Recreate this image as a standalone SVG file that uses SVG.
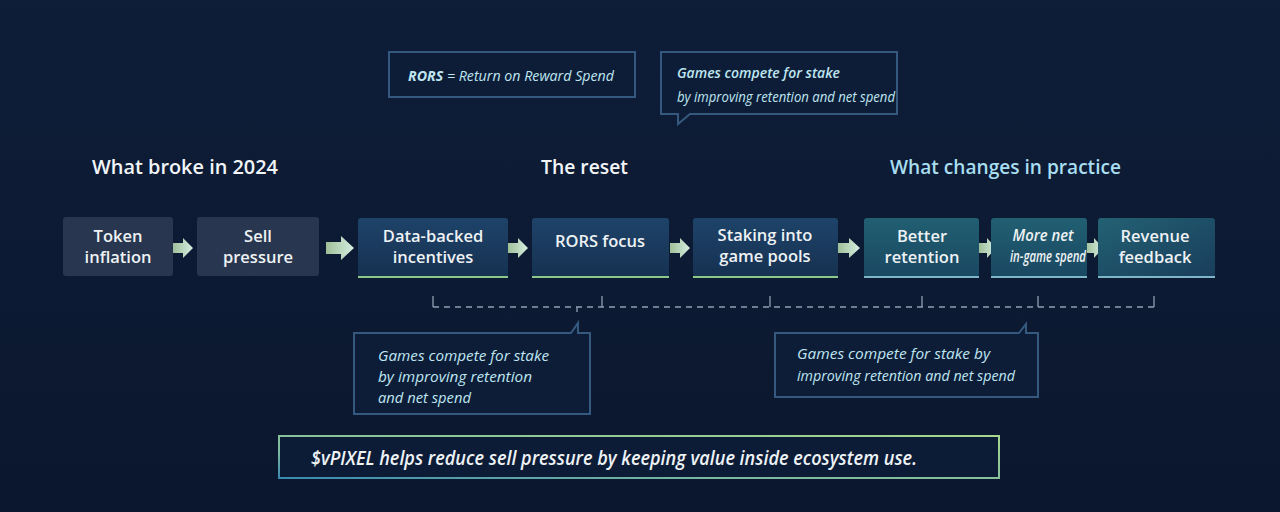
<svg xmlns="http://www.w3.org/2000/svg" width="1280" height="512" viewBox="0 0 1280 512">
<defs>
<linearGradient id="bg" x1="0" y1="0" x2="0" y2="1"><stop offset="0" stop-color="#0e1d38"/><stop offset="1" stop-color="#0b172e"/></linearGradient>
<linearGradient id="lineTop" x1="0" y1="0" x2="1" y2="0"><stop offset="0" stop-color="#2a4666"/><stop offset="0.5" stop-color="#5fa3ad"/><stop offset="1" stop-color="#2f5572"/></linearGradient>
<linearGradient id="lineBot" x1="0" y1="0" x2="1" y2="0"><stop offset="0" stop-color="#35577a"/><stop offset="0.45" stop-color="#a6c99a"/><stop offset="0.75" stop-color="#6aa0a8"/><stop offset="1" stop-color="#35577a"/></linearGradient>
<linearGradient id="gBlue" x1="0" y1="0" x2="0" y2="1"><stop offset="0" stop-color="#1e4369"/><stop offset="1" stop-color="#163151"/></linearGradient>
<linearGradient id="gTeal" x1="0" y1="0" x2="0" y2="1"><stop offset="0" stop-color="#215f72"/><stop offset="1" stop-color="#1a4862"/></linearGradient>
<linearGradient id="gRev" x1="0" y1="0" x2="1" y2="1"><stop offset="0" stop-color="#236173"/><stop offset="1" stop-color="#193d5c"/></linearGradient>
<linearGradient id="gArrow" x1="0" y1="0" x2="1" y2="0"><stop offset="0" stop-color="#9fbf98"/><stop offset="1" stop-color="#d6efe2"/></linearGradient>
<linearGradient id="gBorder" x1="0" y1="1" x2="1" y2="0"><stop offset="0" stop-color="#3a8ab0"/><stop offset="0.3" stop-color="#7ab8a0"/><stop offset="1" stop-color="#a6d68e"/></linearGradient>
<style>
.bg{fill:url(#bg)}
.head{font-family:"Open Sans","Noto Sans",sans-serif;font-weight:600;font-size:20px;fill:#f2f5f8}
.gray{fill:#28374f}
.blue{fill:url(#gBlue)}
.teal{fill:url(#gTeal)}
.lbl{font-family:"Open Sans","Noto Sans",sans-serif;font-weight:600;font-size:16.5px;fill:#eef2f4;text-anchor:middle}
.ulG{stroke:#8cc98a;stroke-width:2}
.ulB{stroke:#7eb6c8;stroke-width:2}
.note{fill:#0d1d38;stroke:#35597e;stroke-width:2}
.nt{font-family:"Open Sans","Noto Sans",sans-serif;font-style:italic;font-size:15px;fill:#bfe6f0}
.arrow{fill:url(#gArrow)}
.dash{fill:none;stroke:#8f9fb2;stroke-width:1.3;stroke-dasharray:6 5}
.tick{stroke:#8f9fb2;stroke-width:1.3}
</style>
</defs>
<rect class="bg" x="0" y="0" width="1280" height="512"/>

<g id="headers">
<line x1="62" y1="142" x2="1216" y2="142" stroke="url(#lineTop)" stroke-width="2"/>
<line x1="62" y1="186" x2="1216" y2="186" stroke="url(#lineBot)" stroke-width="2"/>
<text class="head" x="92" y="174" textLength="186" lengthAdjust="spacingAndGlyphs">What broke in 2024</text>
<text class="head" x="541" y="174" textLength="87" lengthAdjust="spacingAndGlyphs">The reset</text>
<text class="head" x="890" y="174" textLength="231" lengthAdjust="spacingAndGlyphs" style="fill:#a8def0">What changes in practice</text>
</g>

<g id="note-rors">
<rect class="note" x="389" y="52" width="246" height="45"/>
<text class="nt" x="408" y="81" font-size="16" textLength="206" lengthAdjust="spacingAndGlyphs"><tspan font-weight="700">RORS</tspan> = Return on Reward Spend</text>
</g>

<g id="note-top">
<path class="note" d="M661,52 H897 V114 H690 L678,124 V114 H661 Z"/>
<text class="nt" x="677" y="78" font-weight="600" textLength="163" lengthAdjust="spacingAndGlyphs">Games compete for stake</text>
<text class="nt" x="677" y="102" font-size="14" textLength="218" lengthAdjust="spacingAndGlyphs">by improving retention and net spend</text>
</g>

<g id="connectors">
<path class="arrow" d="M173,243 H183 V238 L193,248 L183,258 V253 H173 Z"/>
<path class="arrow" d="M326,242 H341 V236 L354,248 L341,260 V254 H326 Z"/>
<path class="arrow" d="M508,243 H518 V238 L528,248 L518,258 V253 H508 Z"/>
<path class="arrow" d="M670,243 H680 V238 L690,248 L680,258 V253 H670 Z"/>
<path class="arrow" d="M838,243 H849 V238 L860,248 L849,258 V253 H838 Z"/>
<path class="arrow" d="M979,243 H987 V238 L996,248 L987,258 V253 H979 Z"/>
<path class="arrow" d="M1085,243 H1094 V238 L1103,248 L1094,258 V253 H1085 Z"/>
</g>

<g id="node-token">
<rect class="gray" x="63" y="217" width="110" height="59" rx="3"/>
<text class="lbl" x="118" y="242">Token</text>
<text class="lbl" x="118" y="263">inflation</text>
</g>
<g id="node-sell">
<rect class="gray" x="197" y="217" width="122" height="59" rx="3"/>
<text class="lbl" x="258" y="242">Sell</text>
<text class="lbl" x="258" y="263">pressure</text>
</g>
<g id="node-data">
<rect class="blue" x="358" y="218" width="150" height="59" rx="3"/>
<line class="ulG" x1="358" y1="277" x2="508" y2="277"/>
<text class="lbl" x="433" y="242">Data-backed</text>
<text class="lbl" x="433" y="263">incentives</text>
</g>
<g id="node-rors">
<rect class="blue" x="532" y="218" width="137" height="59" rx="3"/>
<line class="ulG" x1="532" y1="277" x2="669" y2="277"/>
<text class="lbl" x="600" y="247">RORS focus</text>
</g>
<g id="node-staking">
<rect class="blue" x="693" y="218" width="145" height="59" rx="3"/>
<line class="ulG" x1="693" y1="277" x2="838" y2="277"/>
<text class="lbl" x="765" y="241">Staking into</text>
<text class="lbl" x="765" y="262">game pools</text>
</g>
<g id="node-retention">
<rect class="teal" x="864" y="218" width="115" height="59" rx="3"/>
<line class="ulB" x1="864" y1="277" x2="979" y2="277"/>
<text class="lbl" x="922" y="242">Better</text>
<text class="lbl" x="922" y="263">retention</text>
</g>
<g id="node-spend">
<rect class="teal" x="991" y="218" width="96" height="59" rx="3"/>
<line class="ulB" x1="991" y1="277" x2="1087" y2="277"/>
<text class="lbl" x="1043" y="241" font-style="italic" font-size="15" textLength="61" lengthAdjust="spacingAndGlyphs">More net</text>
<text class="lbl" x="1048" y="262" font-style="italic" font-size="13" font-weight="500" textLength="76" lengthAdjust="spacingAndGlyphs">in-game spend</text>
</g>
<g id="node-revenue">
<rect x="1098" y="218" width="117" height="59" rx="3" fill="url(#gRev)"/>
<line class="ulB" x1="1098" y1="277" x2="1215" y2="277"/>
<text class="lbl" x="1155" y="242">Revenue</text>
<text class="lbl" x="1155" y="263">feedback</text>
</g>

<g id="bracket">
<path class="dash" d="M433,307 H1154"/>
<line class="tick" x1="433" y1="296" x2="433" y2="307"/>
<line class="tick" x1="602" y1="296" x2="602" y2="307"/>
<line class="tick" x1="770" y1="296" x2="770" y2="307"/>
<line class="tick" x1="922" y1="296" x2="922" y2="307"/>
<line class="tick" x1="1038" y1="296" x2="1038" y2="307"/>
<line class="tick" x1="1154" y1="296" x2="1154" y2="307"/>
<line class="tick" x1="577" y1="307" x2="577" y2="312"/>
</g>

<g id="note-left">
<path class="note" d="M354,333 H571 L578,323 V333 H590 V414 H354 Z"/>
<text class="nt" x="378" y="361" textLength="171" lengthAdjust="spacingAndGlyphs">Games compete for stake</text>
<text class="nt" x="378" y="382" textLength="154" lengthAdjust="spacingAndGlyphs">by improving retention</text>
<text class="nt" x="378" y="403" textLength="93" lengthAdjust="spacingAndGlyphs">and net spend</text>
</g>

<g id="note-right">
<path class="note" d="M775,333 H1019 L1026,324 V333 H1038 V397 H775 Z"/>
<text class="nt" x="797" y="359" textLength="193" lengthAdjust="spacingAndGlyphs">Games compete for stake by</text>
<text class="nt" x="797" y="381" textLength="218" lengthAdjust="spacingAndGlyphs">improving retention and net spend</text>
</g>

<g id="summary">
<rect x="279" y="436" width="720" height="42" fill="#0d1c36" stroke="url(#gBorder)" stroke-width="2"/>
<text x="311" y="465" font-family="Open Sans, Noto Sans, sans-serif" font-style="italic" font-weight="600" font-size="19" fill="#eef3f6" textLength="606" lengthAdjust="spacingAndGlyphs">$vPIXEL helps reduce sell pressure by keeping value inside ecosystem use.</text>
</g>
</svg>
